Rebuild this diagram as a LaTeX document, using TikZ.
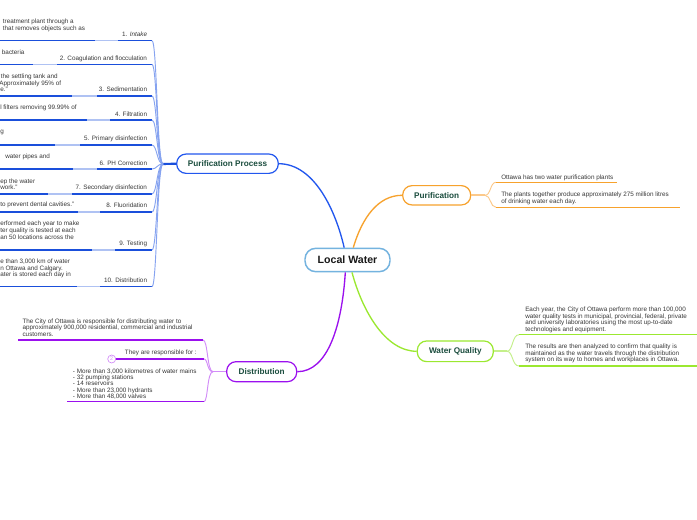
\documentclass[tikz,border=0pt]{standalone}
\usepackage{fontspec}
\setmainfont{Liberation Sans}
\definecolor{pblue}{HTML}{1A4FDB}
\definecolor{pbluel}{HTML}{AFC2F3}
\definecolor{pconn}{HTML}{86A3F0}
\definecolor{mblue}{HTML}{2257EE}
\definecolor{orng}{HTML}{F7A22D}
\definecolor{orngl}{HTML}{FCC98A}
\definecolor{grn}{HTML}{9BE830}
\definecolor{grnl}{HTML}{C4F08A}
\definecolor{purp}{HTML}{9B10EE}
\definecolor{purpl}{HTML}{D28CF8}
\definecolor{ttl}{HTML}{1B4D3E}
\definecolor{notec}{HTML}{383838}
\definecolor{lwb}{HTML}{74B3DF}
\newcounter{ntc}
\newcommand\ntxt[3]{\stepcounter{ntc}\node[note] (n\arabic{ntc}) at (#1,#2+2) {#3};}
\newcommand\lbltxt[3]{\node[lbl] (#1) at (147.3,#2+2) {#3};}
\newcommand\pul[4]{%
  \coordinate (#1) at (152,#2);
  \draw[pblue,ul] (0,#2) -- (#3,#2);
  \draw[pbluel,ul] (#3,#2) -- (#4,#2);
  \draw[pblue,ul] (#4,#2) -- (#1);
  \draw[pconn,conn] (ppfan) .. controls (157,164) and (157,#2) .. (#1);}
\tikzset{
  note/.style={font=\fontsize{4.75}{5}\selectfont, text=notec, inner sep=0pt, anchor=base west},
  lbl/.style={note, anchor=base east},
  topic/.style={draw, fill=white, rounded corners=7pt, line width=0.9pt, inner sep=0pt,
    text=ttl, font=\fontsize{6.15}{7}\selectfont\bfseries},
  ul/.style={line width=1.1pt},
  conn/.style={line width=0.7pt},
  main/.style={line width=1pt}
}
\begin{document}
\begin{tikzpicture}[x=0.75pt,y=-0.75pt]
\useasboundingbox (0,0) rectangle (697,520);
\fill[white] (0,0) rectangle (697,520);

% central and main topics
\node[draw=lwb, fill=white, rounded corners=8pt, line width=1.1pt, inner sep=0pt,
  minimum width=63.75pt, minimum height=17.5pt, text=black!90,
  font=\fontsize{7.95}{9}\selectfont\bfseries] (lw) at (347.5,260) {Local Water};
\node[topic, draw=mblue, minimum width=76.2pt, minimum height=14.5pt] (pp) at (227.5,163.7) {Purification Process};
\node[topic, draw=orng, minimum width=51pt, minimum height=14.5pt] (pur) at (436.7,195.3) {Purification};
\node[topic, draw=grn, minimum width=57pt, minimum height=15.5pt] (wq) at (455.3,351.3) {Water Quality};
\node[topic, draw=purp, minimum width=52.5pt, minimum height=15pt] (dist) at (261.7,371.7) {Distribution};

\draw[mblue,main] (pp.east) .. controls (315,164) and (336,212) .. (lw.105);
\draw[orng,main] (lw.65) .. controls (362,218) and (378,195.3) .. (pur.west);
\draw[grn,main] (lw.-70) .. controls (362,310) and (385,351.3) .. (wq.west);
\draw[purp,main] (lw.-100) .. controls (342,325) and (328,371.7) .. (dist.east);

% Purification Process branch
\coordinate (ppfan) at (163,164);
\draw[pblue,line width=1.6pt] (pp.west) -- (ppfan);
\pul{u1}{40.7}{95}{118}
\pul{u2}{64.3}{33}{57}
\pul{u3}{96}{72}{97}
\pul{u4}{120}{87}{110}
\pul{u5}{145}{55}{80}
\pul{u6}{169}{73}{97}
\pul{u7}{194}{48}{72}
\pul{u8}{212}{78}{100}
\pul{u9}{250}{92}{115}
\pul{u10}{286.7}{77}{100}

\ntxt{2.7}{21.7}{treatment plant through a}
\ntxt{2.7}{28.3}{that removes objects such as}
\lbltxt{l1}{35}{1. \textit{Intake}}
\ntxt{1.7}{52.7}{bacteria}
\lbltxt{l2}{59}{2. Coagulation and flocculation}
\ntxt{0.7}{76.7}{the settling tank and}
\ntxt{-0.8}{83.3}{Approximately 95\% of}
\ntxt{0}{89.6}{e.”}
\lbltxt{l3}{90}{3. Sedimentation}
\ntxt{0}{107.7}{l filters removing 99.99\% of}
\lbltxt{l4}{115}{4. Filtration}
\ntxt{0}{132}{g}
\lbltxt{l5}{138.7}{5. Primary disinfection}
\ntxt{5}{156.7}{water pipes and}
\lbltxt{l6}{164}{6. PH Correction}
\ntxt{0}{181.7}{ep the water}
\ntxt{0}{187.8}{work.”}
\lbltxt{l7}{187.5}{7. Secondary disinfection}
\ntxt{0}{205}{to prevent dental cavities.”}
\lbltxt{l8}{205.7}{8. Fluoridation}
\ntxt{0}{224}{erformed each year to make}
\ntxt{0}{230.7}{ter quality is tested at each}
\ntxt{0}{237.3}{an 50 locations across the}
\lbltxt{l9}{243.3}{9. Testing}
\ntxt{0}{261.7}{e than 3,000 km of water}
\ntxt{0}{268.4}{n Ottawa and Calgary.}
\ntxt{0}{275}{ater is stored each day in}
\lbltxt{l10}{280.7}{10. Distribution}

% Purification branch
\coordinate (orfan) at (485,195.3);
\coordinate (o1) at (496,182.3);
\coordinate (o2) at (496,207.3);
\draw[orngl,line width=1.2pt] (pur.east) -- (orfan);
\draw[orngl,conn] (orfan) .. controls (491,195.3) and (490,182.3) .. (o1);
\draw[orngl,conn] (orfan) .. controls (491,195.3) and (490,207.3) .. (o2);
\draw[orng,ul] (o1) -- (617,182.3);
\draw[orng,ul] (o2) -- (680,207.3);
\ntxt{501}{177.3}{Ottawa has two water purification plants}
\ntxt{501}{195}{The plants together produce approximately 275 million litres}
\ntxt{501}{201.4}{of drinking water each day.}

% Water Quality branch
\coordinate (gfan) at (507,351.3);
\coordinate (g1) at (519,334.7);
\coordinate (g2) at (519,366);
\draw[grnl,line width=1.2pt] (wq.east) -- (gfan);
\draw[grnl,conn] (gfan) .. controls (513,351.3) and (512,334.7) .. (g1);
\draw[grnl,conn] (gfan) .. controls (513,351.3) and (512,366) .. (g2);
\draw[grn,ul] (g1) -- (697,334.7);
\draw[grn,ul] (g2) -- (697,366);
\ntxt{525}{310}{Each year, the City of Ottawa perform more than 100,000}
\ntxt{525}{316.5}{water quality tests in municipal, provincial, federal, private}
\ntxt{525}{323}{and university laboratories using the most up-to-date}
\ntxt{525}{329.5}{technologies and equipment.}
\ntxt{525}{346.7}{The results are then analyzed to confirm that quality is}
\ntxt{525}{353.3}{maintained as the water travels through the distribution}
\ntxt{525}{359.9}{system on its way to homes and workplaces in Ottawa.}

% Distribution branch
\coordinate (dfan) at (213,371.7);
\coordinate (d1) at (203,340);
\coordinate (d2) at (204,359);
\coordinate (d3) at (204,401.7);
\draw[purpl,line width=1.2pt] (dist.west) -- (dfan);
\draw[purpl,conn] (dfan) .. controls (207,371.7) and (208,340) .. (d1);
\draw[purpl,conn] (dfan) .. controls (207,371.7) and (208,359) .. (d2);
\draw[purpl,conn] (dfan) .. controls (207,371.7) and (208,401.7) .. (d3);
\draw[purp,ul] (18,340) -- (d1);
\node[circle, draw=purpl, line width=0.5pt, inner sep=0pt, minimum size=6pt, text=purpl,
  font=\fontsize{4}{4}\selectfont] (cnt) at (111.7,359) {2};
\draw[purp,ul] (cnt.east) -- (d2);
\draw[purp,ul] (67,401.7) -- (d3);
\ntxt{22.3}{321.7}{The City of Ottawa is responsible for distributing water to}
\ntxt{22.3}{328}{approximately 900,000 residential, commercial and industrial}
\ntxt{22.3}{334.3}{customers.}
\node[note, anchor=base east] (resp) at (197,354.7) {They are responsible for :};
\ntxt{72.7}{371.3}{- More than 3,000 kilometres of water mains}
\ntxt{72.7}{377.6}{- 32 pumping stations}
\ntxt{72.7}{383.9}{- 14 reservoirs}
\ntxt{72.7}{390.2}{- More than 23,000 hydrants}
\ntxt{72.7}{396.5}{- More than 48,000 valves}
\end{tikzpicture}
\end{document}
